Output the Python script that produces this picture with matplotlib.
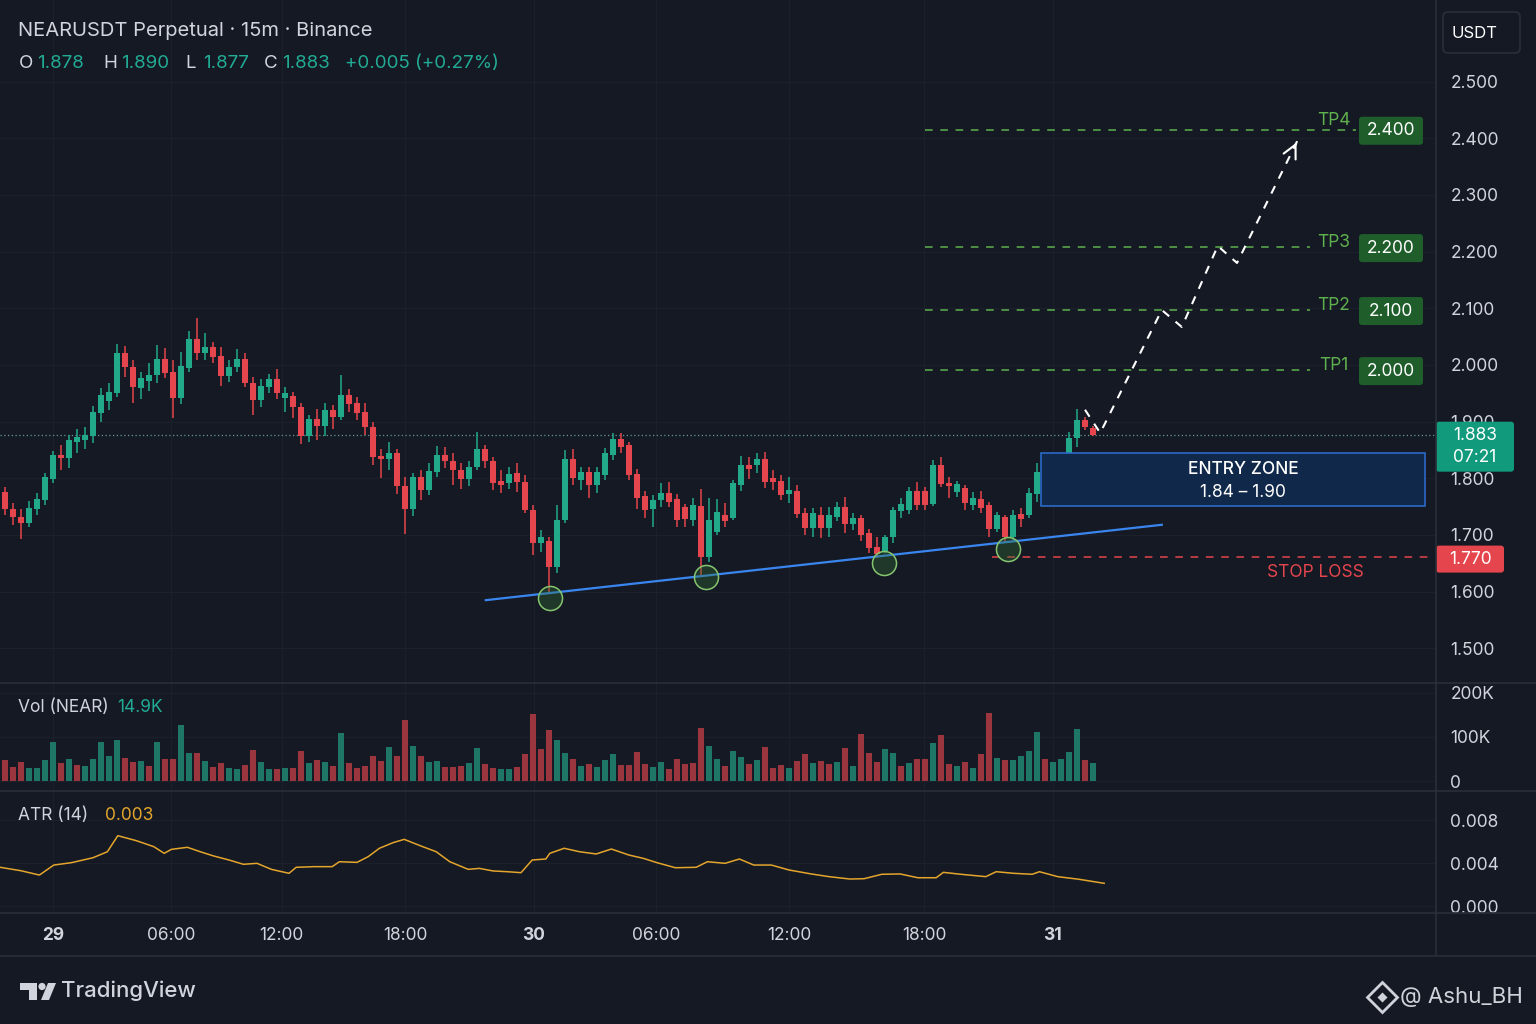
import matplotlib
matplotlib.use("Agg")
import matplotlib.pyplot as plt
from matplotlib.patches import Rectangle, FancyBboxPatch, Polygon
from matplotlib.lines import Line2D

plt.rcParams['font.family'] = ['Inter', 'DejaVu Sans']

BG = '#151924'
TXT = '#d1d4dc'
UP = '#22a98a'
DN = '#e5454c'
VUP = '#1e7766'
VDN = '#9c363e'
GRID = '#1c202b'
SEP = '#2a2e39'

# ---- 15m candles, NEARUSDT perp ----
opens = [1.775, 1.746, 1.732, 1.721, 1.746, 1.762, 1.799, 1.841, 1.836, 1.864,
         1.868, 1.875, 1.915, 1.937, 1.951, 2.021, 1.997, 1.960, 1.972, 1.983,
         2.011, 1.988, 1.942, 1.995, 2.046, 2.021, 2.032, 2.016, 1.981, 1.997,
         2.011, 1.968, 1.938, 1.961, 1.975, 1.942, 1.945, 1.926, 1.875, 1.905,
         1.892, 1.921, 1.908, 1.947, 1.933, 1.917, 1.891, 1.840, 1.834, 1.845,
         1.787, 1.746, 1.803, 1.780, 1.811, 1.841, 1.831, 1.815, 1.799, 1.820,
         1.852, 1.831, 1.796, 1.792, 1.810, 1.794, 1.744, 1.686, 1.690, 1.644,
         1.727, 1.834, 1.797, 1.811, 1.788, 1.806, 1.841, 1.870, 1.859, 1.808,
         1.769, 1.746, 1.762, 1.774, 1.764, 1.750, 1.727, 1.751, 1.661, 1.706,
         1.736, 1.730, 1.788, 1.824, 1.824, 1.834, 1.801, 1.796, 1.773, 1.778,
         1.739, 1.713, 1.736, 1.713, 1.732, 1.750, 1.720, 1.730, 1.704, 1.679,
         1.672, 1.697, 1.743, 1.744, 1.778, 1.778, 1.755, 1.824, 1.792, 1.776,
         1.783, 1.753, 1.764, 1.753, 1.711, 1.732, 1.697, 1.737, 1.736, 1.773,
         1.810, 1.799, 1.803, 1.841, 1.871, 1.903, 1.889]
highs = [1.785, 1.757, 1.746, 1.760, 1.774, 1.810, 1.848, 1.859, 1.877, 1.887,
         1.891, 1.928, 1.960, 1.968, 2.037, 2.034, 2.009, 1.988, 2.004, 2.035,
         2.030, 2.009, 2.023, 2.060, 2.083, 2.057, 2.041, 2.032, 2.009, 2.028,
         2.021, 1.979, 1.975, 1.984, 1.993, 1.961, 1.952, 1.933, 1.912, 1.923,
         1.933, 1.930, 1.982, 1.958, 1.944, 1.933, 1.900, 1.852, 1.864, 1.852,
         1.803, 1.810, 1.815, 1.827, 1.857, 1.855, 1.845, 1.827, 1.831, 1.882,
         1.859, 1.838, 1.815, 1.820, 1.827, 1.806, 1.753, 1.709, 1.697, 1.753,
         1.850, 1.852, 1.820, 1.820, 1.820, 1.854, 1.880, 1.880, 1.864, 1.817,
         1.778, 1.771, 1.792, 1.794, 1.773, 1.755, 1.766, 1.781, 1.766, 1.764,
         1.757, 1.797, 1.840, 1.838, 1.845, 1.847, 1.815, 1.806, 1.803, 1.788,
         1.748, 1.748, 1.750, 1.750, 1.758, 1.767, 1.739, 1.736, 1.711, 1.697,
         1.700, 1.750, 1.766, 1.785, 1.794, 1.785, 1.833, 1.838, 1.803, 1.796,
         1.788, 1.776, 1.778, 1.758, 1.741, 1.736, 1.744, 1.748, 1.783, 1.827,
         1.824, 1.815, 1.845, 1.882, 1.922, 1.908, 1.893]
lows = [1.736, 1.718, 1.693, 1.714, 1.736, 1.753, 1.792, 1.815, 1.818, 1.845,
        1.852, 1.863, 1.900, 1.921, 1.944, 1.979, 1.933, 1.940, 1.954, 1.968,
        1.977, 1.907, 1.931, 1.988, 2.009, 2.009, 2.004, 1.963, 1.970, 1.988,
        1.961, 1.912, 1.926, 1.951, 1.940, 1.917, 1.907, 1.861, 1.864, 1.868,
        1.875, 1.887, 1.903, 1.917, 1.903, 1.877, 1.824, 1.801, 1.815, 1.773,
        1.702, 1.734, 1.762, 1.771, 1.803, 1.818, 1.788, 1.781, 1.787, 1.815,
        1.818, 1.780, 1.774, 1.781, 1.776, 1.739, 1.665, 1.670, 1.600, 1.633,
        1.721, 1.788, 1.780, 1.766, 1.774, 1.797, 1.833, 1.845, 1.797, 1.746,
        1.730, 1.714, 1.750, 1.750, 1.714, 1.714, 1.716, 1.630, 1.653, 1.700,
        1.714, 1.727, 1.778, 1.799, 1.810, 1.783, 1.780, 1.762, 1.757, 1.730,
        1.700, 1.697, 1.695, 1.697, 1.725, 1.704, 1.709, 1.690, 1.668, 1.660,
        1.668, 1.686, 1.730, 1.737, 1.744, 1.744, 1.751, 1.785, 1.766, 1.767,
        1.744, 1.744, 1.739, 1.697, 1.706, 1.686, 1.692, 1.714, 1.730, 1.758,
        1.792, 1.785, 1.797, 1.815, 1.855, 1.886, 1.875]
closes = [1.746, 1.732, 1.721, 1.748, 1.764, 1.803, 1.841, 1.836, 1.868, 1.873,
          1.877, 1.917, 1.947, 1.953, 2.021, 1.997, 1.961, 1.977, 1.983, 2.011,
          1.986, 1.942, 1.998, 2.046, 2.021, 2.032, 2.014, 1.981, 1.997, 2.011,
          1.968, 1.938, 1.963, 1.975, 1.951, 1.951, 1.926, 1.875, 1.905, 1.892,
          1.921, 1.908, 1.947, 1.931, 1.915, 1.891, 1.838, 1.834, 1.845, 1.787,
          1.746, 1.803, 1.780, 1.813, 1.841, 1.831, 1.815, 1.799, 1.820, 1.852,
          1.831, 1.792, 1.788, 1.808, 1.794, 1.744, 1.686, 1.697, 1.644, 1.727,
          1.834, 1.801, 1.811, 1.788, 1.811, 1.845, 1.870, 1.855, 1.806, 1.766,
          1.744, 1.762, 1.774, 1.758, 1.727, 1.728, 1.753, 1.661, 1.727, 1.741,
          1.725, 1.792, 1.824, 1.817, 1.834, 1.794, 1.794, 1.771, 1.780, 1.737,
          1.713, 1.739, 1.713, 1.736, 1.750, 1.720, 1.730, 1.700, 1.677, 1.667,
          1.697, 1.744, 1.755, 1.778, 1.753, 1.753, 1.824, 1.790, 1.787, 1.790,
          1.757, 1.766, 1.748, 1.711, 1.736, 1.697, 1.736, 1.728, 1.774, 1.811,
          1.801, 1.806, 1.841, 1.871, 1.903, 1.891, 1.877]

# volume in K, and the bar colour direction as drawn
volume = [47.7, 32.7, 44.1, 28.8, 28.8, 47, 88, 40.2, 49.3, 36.4,
          34.1, 50, 89.5, 57.8, 92.6, 51.6, 42.5, 45.5, 35, 88,
          50, 50, 127, 64.5, 63, 46.3, 32.7, 41.8, 30.5, 27.4,
          36.4, 70.5, 42.5, 27.4, 27.4, 30.5, 30.5, 68.2, 40.2, 47.7,
          42.5, 34.1, 108, 41.8, 30.5, 34.1, 56.8, 46.3, 78.2, 56.8,
          138.7, 80.5, 56.8, 42.5, 46.3, 32.7, 31.7, 35, 40.2, 74.2,
          39, 30.5, 27.4, 27, 31.7, 60.6, 151.5, 72.8, 116, 93.2,
          64.5, 49.3, 34.1, 39, 31.7, 47.7, 60.6, 36.4, 36.4, 66.8,
          39, 31.7, 44.1, 27.4, 50, 39, 40.2, 119.7, 80.5, 49.3,
          35, 68.2, 55.5, 39, 47.7, 78.2, 28.8, 36.4, 28.8, 46.3,
          61.4, 40.2, 45.5, 37.7, 42.5, 74.2, 35, 106, 64.5, 44.1,
          72.8, 63, 35, 40.2, 50, 50, 87.2, 104.5, 37.7, 35,
          44.1, 30.5, 60.6, 153.8, 51.6, 47.7, 47.7, 57.8, 69, 110.6,
          49.3, 42.5, 49.3, 66.8, 117.5, 47.7, 40.2]
vol_dir = ("rrrggggrgr" "gggggrrgrg" "rrggrgrrgg" "rrggrgrrgr" "grgrrrrrgr"
           "rgrggrrrgg" "rrggrrrrrg" "grgrgggrrr" "rggrrrrrgg" "rggrgrrrgr"
           "rgrrgrgrrr" "ggrgrrgrrg" "rgrrgrgggg" "rggggrg")

# ATR(14) trace (bar position, value)
atr_t = [-0.6, 2, 4.3, 6.1, 8.3, 11, 12.8, 14.1, 16.4, 18.6,
         19.9, 20.8, 22.8, 24.4, 26.1, 28, 29.8, 31.5, 33.3, 35.5,
         36.4, 38.6, 40.9, 41.8, 44, 45.4, 46.8, 48.5, 49.9, 52,
         53.9, 55.6, 57.9, 59.3, 61, 62.8, 64.5, 65.9, 67.6, 68.1,
         69.9, 71.8, 73.9, 75.8, 78, 79.8, 81.5, 83.8, 86.4, 87.8,
         90, 91.8, 93.6, 95.8, 98, 100.8, 103, 105.6, 107.4, 109.6,
         111.9, 114.1, 116.4, 117.3, 119.5, 122.6, 123.9, 126.1, 128.4, 129.3,
         131.6, 134.3, 137.4]
atr = [0.0036, 0.00328, 0.00288, 0.00381, 0.00403, 0.00449, 0.00505, 0.00654, 0.00608, 0.00552,
       0.0049, 0.00527, 0.00546, 0.00505, 0.00465, 0.00428, 0.00388, 0.00397, 0.00341, 0.00304,
       0.0036, 0.00366, 0.00366, 0.00412, 0.00406, 0.00459, 0.00537, 0.00589, 0.0062, 0.00558,
       0.00505, 0.00412, 0.00341, 0.0035, 0.00326, 0.00319, 0.0031, 0.00428, 0.00437, 0.0049,
       0.00537, 0.00505, 0.00484, 0.0053, 0.00474, 0.00443, 0.00403, 0.00356, 0.0036, 0.00412,
       0.00397, 0.00437, 0.00381, 0.00381, 0.00335, 0.00298, 0.00273, 0.00251, 0.00254, 0.00295,
       0.00298, 0.00263, 0.00263, 0.00313, 0.00295, 0.00273, 0.00319, 0.00304, 0.00295, 0.00319,
       0.00273, 0.00248, 0.00211]

time_pos = [6, 20.75, 34.6, 50, 66.1, 81.4, 98, 114.9, 131]
time_lbl = ['29', '06:00', '12:00', '18:00', '30', '06:00', '12:00', '18:00', '31']
price_ticks = [2.5, 2.4, 2.3, 2.2, 2.1, 2.0, 1.9, 1.8, 1.7, 1.6, 1.5]

# trade plan drawing (as placed on the chart)
tp_names = ['TP4', 'TP3', 'TP2', 'TP1']
tp_text = ['2.400', '2.200', '2.100', '2.000']
tp_y = [2.415, 2.208, 2.097, 1.991]
zone_lo, zone_hi = 1.751, 1.845
stop_y = 1.661
sup_x, sup_y = [60.1, 144.6], [1.585, 1.718]
touch_x = [68.1, 87.6, 109.9, 125.4]
touch_y = [1.589, 1.626, 1.651, 1.675]
path_x = [135, 136.9, 144.6, 147.1, 151.6, 154, 161.6]
path_y = [1.921, 1.880, 2.097, 2.067, 2.210, 2.180, 2.397]

W, H = 1536, 1024
fig = plt.figure(figsize=(W / 100, H / 100), dpi=100, facecolor=BG)


def rect(x0, y0, x1, y1):
    return [x0 / W, 1 - y1 / H, (x1 - x0) / W, (y1 - y0) / H]


ax = fig.add_axes(rect(0, 0, 1435, 682))
axv = fig.add_axes(rect(0, 683, 1435, 790), sharex=ax)
axa = fig.add_axes(rect(0, 791, 1435, 912), sharex=ax)
for a in (ax, axv, axa):
    a.set_facecolor(BG)
    for s in a.spines.values():
        s.set_visible(False)
    a.yaxis.tick_right()
    a.tick_params(axis='y', length=0, pad=11, labelsize=12.5, labelcolor=TXT)
    a.tick_params(axis='x', length=0)
    a.set_xticks(time_pos)
    a.grid(True, color=GRID, lw=0.9)
    a.set_axisbelow(True)

ax.set_xlim(-0.625, 178.75)
ax.set_ylim(1.4406, 2.644)
ax.set_yticks(price_ticks)
ax.set_yticklabels(['%.3f' % p for p in price_ticks])
axv.set_ylim(-20.45, 222.7)
axv.set_yticks([0, 100, 200])
axv.set_yticklabels(['0', '100K', '200K'])
axa.set_ylim(-0.000558, 0.010698)
axa.set_yticks([0, 0.004, 0.008])
axa.set_yticklabels(['0.000', '0.004', '0.008'])
ax.tick_params(axis='x', labelbottom=False)
axv.tick_params(axis='x', labelbottom=False)
axa.set_xticklabels(time_lbl)
axa.tick_params(axis='x', pad=11, labelsize=12.5, labelcolor=TXT)
for t in axa.get_xticklabels():
    if ':' not in t.get_text():
        t.set_fontweight('bold')

# candles
idx = list(range(len(closes)))
cols = [UP if c >= o else DN for o, c in zip(opens, closes)]
ax.vlines(idx, lows, highs, colors=cols, lw=1.1, zorder=3)
ax.bar(idx, [max(abs(c - o), 0.0025) for o, c in zip(opens, closes)],
       bottom=[min(o, c) for o, c in zip(opens, closes)],
       width=0.75, color=cols, zorder=4)
ax.axhline(closes[-1], color='#5f9a92', lw=0.9, ls=(0, (1, 2)), zorder=2)

# volume / ATR panes
axv.bar(range(len(volume)), volume, width=0.75,
        color=[VUP if d == 'g' else VDN for d in vol_dir])
axa.plot(atr_t, atr, color='#e3a52c', lw=1.1)

# trade plan
for name, y in zip(tp_names, tp_y):
    x1 = 168.9 if name == 'TP4' else 163.1
    ax.plot([115, x1], [y, y], color='#5fb14d', lw=1.1, ls=(0, (5, 5)), zorder=5)
    ax.annotate(name, (166.1, y), xytext=(0, 7 if name == 'TP4' else 3.5),
                textcoords='offset points', ha='center', va='center',
                color='#5fb14d', fontsize=12.5, zorder=6)
ax.add_patch(Rectangle((129.5, zone_lo), 48, zone_hi - zone_lo, fc='#10284a',
                       ec='#2d6fd2', lw=1.1, zorder=5))
ax.text(154.75, zone_lo + 0.68 * (zone_hi - zone_lo), 'ENTRY ZONE', color='white',
        ha='center', va='center', fontsize=12.5, fontweight='medium', zorder=6)
ax.text(154.75, zone_lo + 0.26 * (zone_hi - zone_lo), '1.84 – 1.90', color='white',
        ha='center', va='center', fontsize=12.5, zorder=6)
ax.plot([123.4, 178.75], [stop_y, stop_y], color=DN, lw=1.1, ls=(0, (5, 5)), zorder=5)
ax.annotate('STOP LOSS', (163.75, stop_y), xytext=(0, -11), textcoords='offset points',
            ha='center', va='center', color=DN, fontsize=12.5, zorder=6)
ax.plot(sup_x, sup_y, color='#3a86f0', lw=1.6, zorder=5)
ax.scatter(touch_x, touch_y, s=300, facecolor=(0.2, 0.45, 0.2, 0.35),
           edgecolor='#86c56f', lw=1.1, zorder=6)
ax.plot(path_x, path_y, color='white', lw=1.5, ls=(0, (4, 4)), zorder=7)
dx, dy = path_x[-1] - path_x[-2], path_y[-1] - path_y[-2]
ax.annotate('', xy=(path_x[-1], path_y[-1]),
            xytext=(path_x[-1] - 0.05 * dx, path_y[-1] - 0.05 * dy),
            arrowprops=dict(arrowstyle='->', color='white', lw=1.5, mutation_scale=24),
            zorder=7)

# overlay in figure pixels for labels, badges and chrome
ov = fig.add_axes([0, 0, 1, 1], zorder=10)
ov.set_xlim(0, W)
ov.set_ylim(H, 0)
ov.axis('off')
ov.patch.set_alpha(0)


def py(a, v):
    return H - a.transData.transform((0, v))[1]


def badge(x0, x1, yc, h, fc, lines, size=12.5):
    ov.add_patch(FancyBboxPatch((x0, yc - h / 2), x1 - x0, h,
                                boxstyle='round,pad=0,rounding_size=3', fc=fc, ec='none'))
    n = len(lines)
    for k, s in enumerate(lines):
        ov.text((x0 + x1) / 2, yc + (k - (n - 1) / 2) * 22, s, color='white',
                ha='center', va='center', fontsize=size)


for txt, y in zip(tp_text, tp_y):
    badge(1359, 1423, py(ax, y) + 1, 28, '#1f5e2a', [txt])
badge(1436, 1514, py(ax, closes[-1]) + 12, 50, '#129a7c', ['1.883', '07:21'])
badge(1436, 1504, py(ax, stop_y) + 2, 27, '#e5454c', ['1.770'])

# separators
for y in (682.5, 790.5, 912.5, 955.5):
    ov.add_line(Line2D([0, W], [y, y], color=SEP, lw=1.2))
ov.add_line(Line2D([1435.5, 1435.5], [0, 955], color=SEP, lw=1.2))

# header
ov.text(18, 31, 'NEARUSDT Perpetual · 15m · Binance', color=TXT, fontsize=14.5,
        va='center')
green = '#22ab94'
for lab, val, x in [('O', '1.878', 19), ('H', '1.890', 103), ('L', '1.877', 185),
                    ('C', '1.883', 264)]:
    ov.text(x, 63, lab, color=TXT, fontsize=13.5, va='center')
    ov.text(x + 18, 63, val, color=green, fontsize=13.5, va='center')
ov.text(345, 63, '+0.005 (+0.27%)', color=green, fontsize=13.5, va='center')
ov.add_patch(FancyBboxPatch((1443, 12), 77, 41, boxstyle='round,pad=0,rounding_size=5',
                            fc=BG, ec=SEP, lw=1.2))
ov.text(1474, 33, 'USDT', color='white', fontsize=12, ha='center', va='center')

ov.text(18, 708, 'Vol (NEAR)', color=TXT, fontsize=12.5, va='center')
ov.text(117, 708, '14.9K', color=green, fontsize=12.5, va='center')
ov.text(18, 816, 'ATR (14)', color=TXT, fontsize=12.5, va='center')
ov.text(105, 816, '0.003', color='#e3a52c', fontsize=12.5, va='center')

# footer: TradingView mark and watermark
ov.add_patch(Polygon([(20, 983), (37, 983), (37, 1000), (29, 1000), (29, 990), (20, 990)],
                     closed=True, fc=TXT, ec='none'))
ov.add_patch(plt.Circle((42, 986.5), 3.6, fc=TXT, ec='none'))
ov.add_patch(Polygon([(41, 1000), (48, 983), (56, 983), (49, 1000)], closed=True,
                     fc=TXT, ec='none'))
ov.text(61, 991, 'TradingView', color=TXT, fontsize=16, va='center',
        fontweight='medium')
ov.plot([1382], [997], marker='D', ms=15, mfc='none', mec='#cfd2d8', mew=2)
ov.plot([1382], [997], marker='D', ms=5, mfc='#cfd2d8', mec='none')
ov.text(1400, 997, '@ Ashu_BH', color='#cfd2d8', fontsize=16, va='center')

fig.savefig('out.png', dpi=100, facecolor=BG)
